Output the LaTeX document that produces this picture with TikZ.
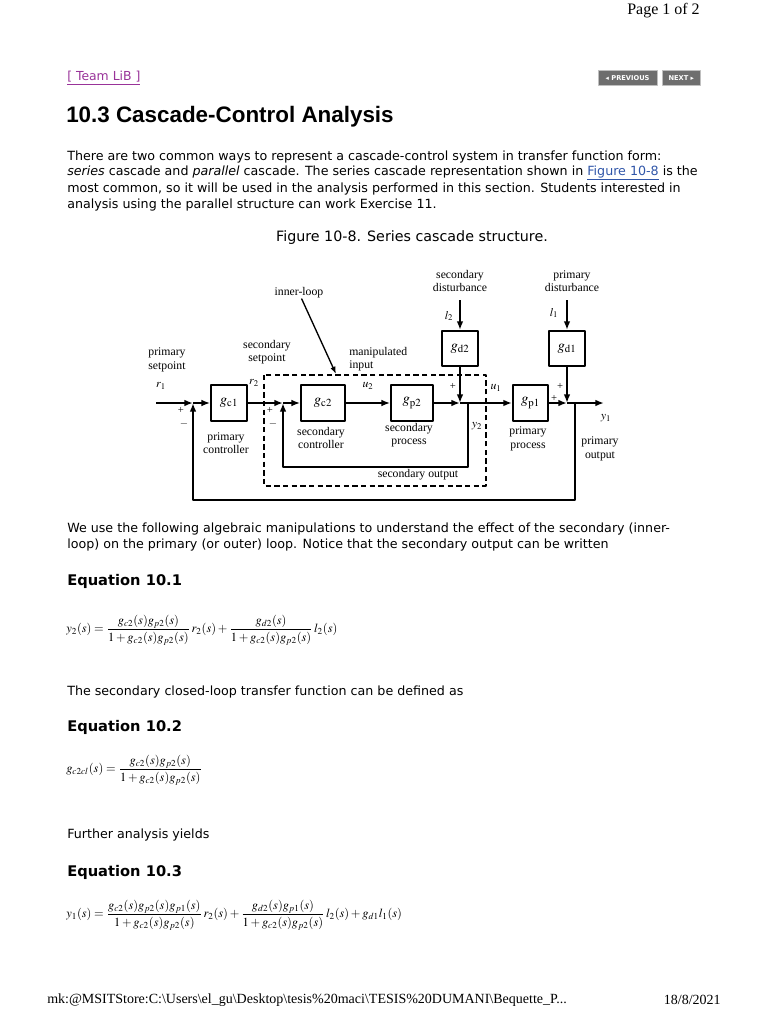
\documentclass[tikz,border=0pt]{standalone}
\usepackage{mathptmx}
\usepackage[no-math]{fontspec}
\setmainfont{DejaVu Sans}
\newfontfamily\seriffont{Liberation Serif}
\newfontfamily\headfont{Liberation Sans}
\usetikzlibrary{positioning,arrows.meta}
\definecolor{visited}{HTML}{993399}
\definecolor{linkblue}{HTML}{2F55A8}
\definecolor{btngray}{HTML}{6E6E6E}
\newcommand\bodyfont{\fontsize{9.5}{11}\selectfont}
\newcommand\diagfont{\seriffont\fontsize{8.8}{10}\selectfont}
\newcommand\eqheadfont{\fontsize{11}{13}\selectfont\bfseries}
\begin{document}
\begin{tikzpicture}[x=0.75pt,y=-0.75pt,line join=round,>={Latex[length=6.5pt,width=5pt]},
	txt/.style={anchor=west,inner sep=0pt,font=\bodyfont},
	eqhead/.style={anchor=west,inner sep=0pt,font=\eqheadfont},
	eqn/.style={anchor=west,inner sep=0pt,font=\fontsize{9.3}{11}\selectfont},
	blk/.style={draw,line width=1.3pt,minimum height=27pt,inner sep=0pt,font=\fontsize{11}{11}\selectfont},
	lbl/.style={font=\diagfont,align=center,inner sep=0pt},
	sgn/.style={font=\seriffont\fontsize{8}{8}\selectfont,inner sep=0pt},
	sig/.style={line width=1.3pt},
	btn/.style={fill=btngray,draw=gray!50,text=white,font=\fontsize{5}{5}\selectfont\bfseries,inner sep=0pt,minimum height=11pt}]
\useasboundingbox (0,0) rectangle (768,1024);
\def\ymain{403}
% page header
\node[anchor=east,inner sep=0pt,font=\seriffont\fontsize{12}{12}\selectfont] (page) at (700,11) {Page 1 of 2};
\node[anchor=west,inner sep=0pt,font=\fontsize{9.3}{11}\selectfont,text=visited] (teamlib) at (67,78) {\underline{[ Team LiB ]}};
\node[btn,minimum width=44pt,anchor=west] (prev) at (598,78) {◂ PREVIOUS};
\node[btn,minimum width=28.5pt,anchor=west] (next) at (662,78) {NEXT ▸};
\node[anchor=west,inner sep=0pt,font=\headfont\fontsize{16.8}{18}\selectfont\bfseries] (title) at (66,117) {10.3 Cascade-Control Analysis};
% first paragraph
\node[txt] (p1) at (67,157) {There are two common ways to represent a cascade-control system in transfer function form:};
\node[txt] (p2) at (67,173) {\textit{series} cascade and \textit{parallel} cascade. The series cascade representation shown in \textcolor{linkblue}{\underline{Figure 10-8}} is the};
\node[txt] (p3) at (67,189) {most common, so it will be used in the analysis performed in this section. Students interested in};
\node[txt] (p4) at (67,205) {analysis using the parallel structure can work Exercise 11.};
\node[inner sep=0pt,font=\fontsize{10.7}{12}\selectfont] (caption) at (412,238) {Figure 10-8. Series cascade structure.};
% block diagram
\node[blk,minimum width=27pt] (gc1) at (229,\ymain) {$g_{\mathrm{c1}}$};
\node[blk,minimum width=33pt] (gc2) at (323,\ymain) {$g_{\mathrm{c2}}$};
\node[blk,minimum width=31.5pt] (gp2) at (412,\ymain) {$g_{\mathrm{p2}}$};
\node[blk,minimum width=26.5pt,minimum height=26.5pt] (gd2) at (460,348.5) {$g_{\mathrm{d2}}$};
\node[blk,minimum width=26.5pt] (gp1) at (530.5,\ymain) {$g_{\mathrm{p1}}$};
\node[blk,minimum width=26.5pt,minimum height=26.5pt] (gd1) at (567,348.5) {$g_{\mathrm{d1}}$};
\path
	(156,\ymain) coordinate (in1)
	(193,\ymain) coordinate (s1)
	(283,\ymain) coordinate (s2)
	(460,\ymain) coordinate (s3)
	(468,\ymain) coordinate (y2t)
	(567,\ymain) coordinate (s4)
	(575,\ymain) coordinate (y1t)
	(604,\ymain) coordinate (out)
	(460,300) coordinate (l2)
	(567,300) coordinate (l1)
	(468,467) coordinate (fb2r)
	(283,467) coordinate (fb2)
	(575,500) coordinate (fb1r)
	(193,500) coordinate (fb1)
	(336,374) coordinate (ilend)
	;
\draw[sig,->] (in1) -- (s1);
\draw[sig,->] (s1) -- (gc1);
\draw[sig,->] (gc1) -- (s2);
\draw[sig,->] (s2) -- (gc2);
\draw[sig,->] (gc2) -- (gp2);
\draw[sig,->] (gp2) -- (s3);
\draw[sig,->] (s3) -- (gp1);
\draw[sig,->] (gp1) -- (s4);
\draw[sig,->] (s4) -- (out);
\draw[sig,->] (l2) -- (gd2);
\draw[sig,->] (gd2) -- (s3);
\draw[sig,->] (l1) -- (gd1);
\draw[sig,->] (gd1) -- (s4);
\draw[sig,->] (y2t) -- (fb2r) -- (fb2) -- (s2);
\draw[sig,->] (y1t) -- (fb1r) -- (fb1) -- (s1);
\draw[line width=1pt,dash pattern=on 4pt off 2.5pt] (264,375) rectangle (486,486);
\node[lbl] (inner) at (299,293) {inner-loop};
\draw[line width=1pt,-{Latex[length=5.5pt,width=4pt]}] (inner) -- (ilend);
\node[lbl] (psp) at (167,360) {primary\\setpoint};
\node[lbl] (r1) at (161,386) {$r_1$};
\foreach \n/\s/\p in {a/+/{181,410},b/$-$/{184,424},c/+/{270,410},d/$-$/{273,424},e/+/{453,386},f/+/{554,398},g/+/{560,386}}
	\node[sgn] (sg\n) at (\p) {\s};
\node[lbl] (pctl) at (226,443) {primary\\controller};
\node[lbl] (r2) at (254,383) {$r_2$};
\node[lbl] (ssp) at (267,352) {secondary\\setpoint};
\node[lbl,align=left,anchor=west] (mi) at (349,359) {manipulated\\input};
\node[lbl] (u2) at (368,386) {$u_2$};
\node[lbl] (sctl) at (321,438) {secondary\\controller};
\node[lbl] (sproc) at (409,435) {secondary\\process};
\node[lbl] (l2lbl) at (449,316) {$l_2$};
\node[lbl] (sdist) at (460,281) {secondary\\disturbance};
\node[lbl] (y2) at (477,426) {$y_2$};
\node[lbl] (u1) at (496,388) {$u_1$};
\node[lbl] (pproc) at (528,439) {primary\\process};
\node[lbl] (l1lbl) at (554,313) {$l_1$};
\node[lbl] (pdist) at (572,281) {primary\\disturbance};
\node[lbl] (y1) at (606,418) {$y_1$};
\node[lbl] (pout) at (600,449) {primary\\output};
\node[lbl] (sout) at (418,475) {secondary output};
% text below the figure
\node[txt] (q1) at (67,529) {We use the following algebraic manipulations to understand the effect of the secondary (inner-};
\node[txt] (q2) at (67,545) {loop) on the primary (or outer) loop. Notice that the secondary output can be written};
\node[eqhead] (h1) at (67,581) {Equation 10.1};
\node[eqn] (eq1) at (66,630) {$\displaystyle y_2(s)=\frac{g_{c2}(s)g_{p2}(s)}{1+g_{c2}(s)g_{p2}(s)}\,r_2(s)+\frac{g_{d2}(s)}{1+g_{c2}(s)g_{p2}(s)}\,l_2(s)$};
\node[txt] (q3) at (67,692) {The secondary closed-loop transfer function can be defined as};
\node[eqhead] (h2) at (67,727) {Equation 10.2};
\node[eqn] (eq2) at (66,770) {$\displaystyle g_{c2cl}(s)=\frac{g_{c2}(s)g_{p2}(s)}{1+g_{c2}(s)g_{p2}(s)}$};
\node[txt] (q4) at (67,835) {Further analysis yields};
\node[eqhead] (h3) at (67,872) {Equation 10.3};
\node[eqn] (eq3) at (66,915) {$\displaystyle y_1(s)=\frac{g_{c2}(s)g_{p2}(s)g_{p1}(s)}{1+g_{c2}(s)g_{p2}(s)}\,r_2(s)+\frac{g_{d2}(s)g_{p1}(s)}{1+g_{c2}(s)g_{p2}(s)}\,l_2(s)+g_{d1}l_1(s)$};
% footer
\node[anchor=west,inner sep=0pt,font=\seriffont\fontsize{10.5}{12}\selectfont] (foot) at (47,1000) {mk:@MSITStore:C:\textbackslash Users\textbackslash el\_gu\textbackslash Desktop\textbackslash tesis\%20maci\textbackslash TESIS\%20DUMANI\textbackslash Bequette\_P...};
\node[anchor=east,inner sep=0pt,font=\seriffont\fontsize{10.5}{12}\selectfont] (date) at (721,1000) {18/8/2021};
\end{tikzpicture}
\end{document}
